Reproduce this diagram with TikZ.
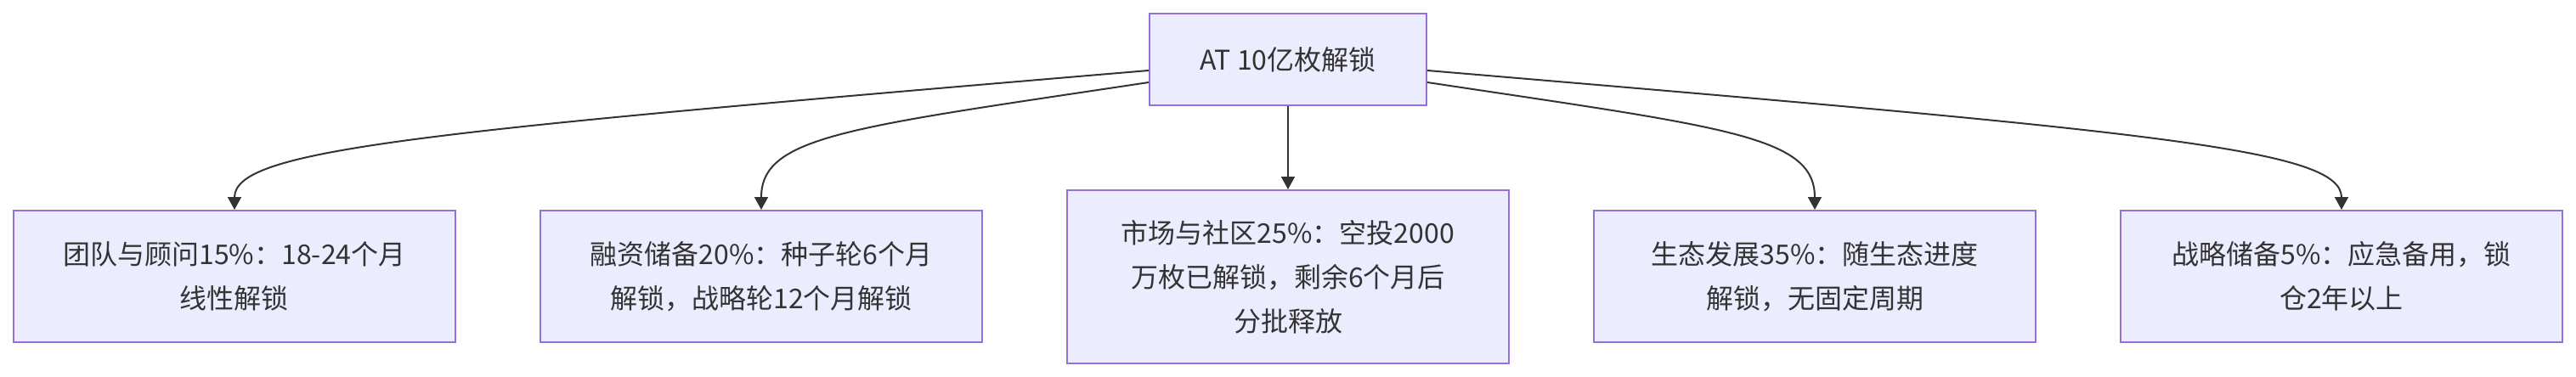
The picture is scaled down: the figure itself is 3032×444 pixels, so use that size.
\documentclass[tikz,border=0pt]{standalone}
\usepackage{fontspec}
\setmainfont{Noto Sans CJK SC}
\usetikzlibrary{arrows.meta,calc}
\definecolor{boxfill}{HTML}{ECECFF}
\definecolor{boxline}{HTML}{9370DB}
\definecolor{ink}{HTML}{333333}
\tikzset{
  box/.style={draw=boxline, fill=boxfill, line width=1pt, text=ink, align=center,
    inner sep=0pt, font=\fontsize{16pt}{26pt}\selectfont},
  conn/.style={draw=ink, line width=1pt, -{Triangle[length=7.5pt,width=8pt]}}
}
\begin{document}
\begin{tikzpicture}[x=0.5pt,y=-0.5pt]
\useasboundingbox (0,0) rectangle (3032,444);
\node[box, minimum width=163pt, minimum height=54pt] (top) at (1516,70) {AT 10亿枚解锁};
\node[box, minimum width=260pt, minimum height=77.5pt] (b1) at (276,325.5) {团队与顾问15\%：18-24个月\\线性解锁};
\node[box, minimum width=260pt, minimum height=77.5pt] (b2) at (896,325.5) {融资储备20\%：种子轮6个月\\解锁，战略轮12个月解锁};
\node[box, minimum width=260pt, minimum height=102pt] (b3) at (1516,326) {市场与社区25\%：空投2000\\万枚已解锁，剩余6个月后\\分批释放};
\node[box, minimum width=260pt, minimum height=77.5pt] (b4) at (2136,325.5) {生态发展35\%：随生态进度\\解锁，无固定周期};
\node[box, minimum width=260pt, minimum height=77.5pt] (b5) at (2756,325.5) {战略储备5\%：应急备用，锁\\仓2年以上};
\coordinate (l1) at ($(top.west)+(0,13)$);
\coordinate (l2) at ($(top.west)+(0,27)$);
\coordinate (r1) at ($(top.east)+(0,13)$);
\coordinate (r2) at ($(top.east)+(0,27)$);
\draw[conn] (l1) .. controls (500,155) and (276,175) .. (b1.north);
\draw[conn] (l2) .. controls (1000,150) and (896,160) .. (b2.north);
\draw[conn] (top.south) -- (b3.north);
\draw[conn] (r2) .. controls (2032,150) and (2136,160) .. (b4.north);
\draw[conn] (r1) .. controls (2532,155) and (2756,175) .. (b5.north);
\end{tikzpicture}
\end{document}
